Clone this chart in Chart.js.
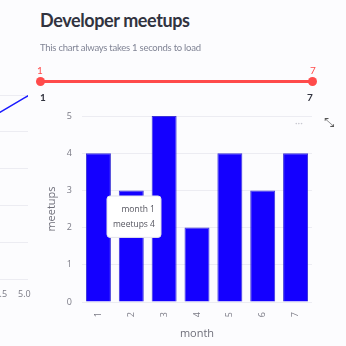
<!DOCTYPE html>
<html>
<head>
<meta charset="utf-8">
<script src="https://cdn.jsdelivr.net/npm/chart.js@4"></script>
<style>
  html, body { margin:0; padding:0; width:346px; height:346px; overflow:hidden; background:#fcfcfe; font-family:"Lato","Noto Sans",sans-serif; }
  .abs { position:absolute; white-space:nowrap; }
  #title { left:40px; top:9px; font-size:18px; letter-spacing:-0.4px; font-weight:700; color:#31333f; }
  #sub { left:40px; top:42px; font-size:9.5px; letter-spacing:-0.25px; color:#808495; }
  #track { left:40px; top:79.5px; width:272px; height:3px; background:#ff4b4b; }
  .knob { width:9px; height:9px; border-radius:50%; background:#ff4b4b; top:76.5px; }
  .vlab { font-size:10px; color:#ff4b4b; top:64px; }
  .blab { font-size:10px; color:#31333f; top:91px; font-weight:700; }
  #dots { left:295px; top:116px; font-size:10px; color:#c8c8d0; }
  #expand { left:324px; top:115px; font-size:13px; color:#555; font-family:"DejaVu Sans"; }
  #c1 { position:absolute; left:-200px; top:85px; width:240px; height:225px; }
  #c2 { position:absolute; left:40px; top:100px; width:306px; height:246px; }
</style>
</head>
<body>
<canvas id="c1" width="240" height="225"></canvas>
<canvas id="c2" width="306" height="246"></canvas>
<div class="abs" id="title">Developer meetups</div>
<div class="abs" id="sub">This chart always takes 1 seconds to load</div>
<div class="abs" id="track"></div>
<div class="abs knob" style="left:35.5px"></div>
<div class="abs knob" style="left:307.5px"></div>
<div class="abs vlab" style="left:37px">1</div>
<div class="abs vlab" style="left:310px">7</div>
<div class="abs blab" style="left:40px">1</div>
<div class="abs blab" style="left:307px">7</div>
<div class="abs" id="dots">···</div>
<div class="abs" id="expand">⤡</div>
<script>
// ---- data ----
const months = ["1","2","3","4","5","6","7"];
const meetups = [4, 3, 5, 2, 4, 3, 4];
const yTicks = [0, 1, 2, 3, 4, 5];
// partially visible line chart on the left
const lineX = [4.0, 4.5, 5.0, 5.5];
const lineY = [4.16, 4.54, 4.92, 5.3];
const tooltipLines = ["month 1", "meetups 4"];

const tickFont = { family: "Open Sans", size: 9 };
const tickColor = "#7a7a85";
const gridColor = "#ececf2";

// ---- left (cut-off) line chart ----
new Chart(document.getElementById('c1'), {
  type: 'line',
  data: { datasets: [{ data: lineX.map((x, i) => ({ x: x, y: lineY[i] })), borderColor: '#1a1aff', borderWidth: 1.5, pointRadius: 0, tension: 0 }] },
  options: {
    responsive: false, animation: false,
    layout: { padding: { top: 10, right: 12, bottom: 0, left: 0 } },
    plugins: { legend: { display: false }, tooltip: { enabled: false } },
    scales: {
      x: { type: 'linear', min: 0.5, max: 5.076,
        ticks: { stepSize: 0.5, includeBounds: false, font: tickFont, color: tickColor, padding: 2, maxRotation: 0,
          callback: v => v.toFixed(1) },
        grid: { display: false }, border: { display: false },
        afterFit: s => { s.height = 31; } },
      y: { min: 0, max: 5, ticks: { stepSize: 1, font: tickFont, color: tickColor },
        grid: { color: gridColor, drawTicks: false }, border: { display: false } }
    }
  }
});

// ---- bar chart ----
Chart.Tooltip.positioners.fixedPos = function () { return { x: 70, y: 96 }; };

const bar = new Chart(document.getElementById('c2'), {
  type: 'bar',
  data: { labels: months, datasets: [{ data: meetups, backgroundColor: '#1400ff', borderColor: '#3b33d6', borderWidth: 1, barPercentage: 0.76, categoryPercentage: 1 }] },
  options: {
    responsive: false, animation: false,
    layout: { padding: { top: 16, right: 34, bottom: 6, left: 5 } },
    plugins: {
      legend: { display: false },
      tooltip: {
        enabled: true, position: 'fixedPos', xAlign: 'left', yAlign: 'top',
        caretSize: 0, caretPadding: 0, cornerRadius: 3,
        backgroundColor: '#ffffff', borderColor: '#e3e3ea', borderWidth: 1,
        bodyColor: '#55555f', bodyFont: { family: 'Open Sans', size: 8.5 }, bodyAlign: 'right',
        bodySpacing: 5, padding: { x: 6, y: 8 }, displayColors: false,
        callbacks: { title: () => [], label: () => tooltipLines }
      }
    },
    scales: {
      x: {
        ticks: { font: tickFont, color: tickColor, minRotation: 90, maxRotation: 90, padding: 10 },
        grid: { display: false, drawTicks: false }, border: { display: false },
        title: { display: true, text: 'month', color: '#6f6f7a', font: { family: 'Open Sans', size: 11 }, padding: 0 },
        afterFit: s => { s.height = 38; }
      },
      y: {
        min: 0, max: 5,
        afterBuildTicks: s => { s.ticks = yTicks.map(v => ({ value: v })); },
        ticks: { font: tickFont, color: tickColor, padding: 10 },
        grid: { color: gridColor, drawTicks: false }, border: { display: false },
        title: { display: true, text: 'meetups', color: '#6f6f7a', font: { family: 'Open Sans', size: 11 }, padding: 0 },
        afterFit: s => { s.width = 37; }
      }
    }
  }
});
bar.tooltip.setActiveElements([{ datasetIndex: 0, index: 0 }], { x: 57, y: 83 });
bar.update();
</script>
</body>
</html>
